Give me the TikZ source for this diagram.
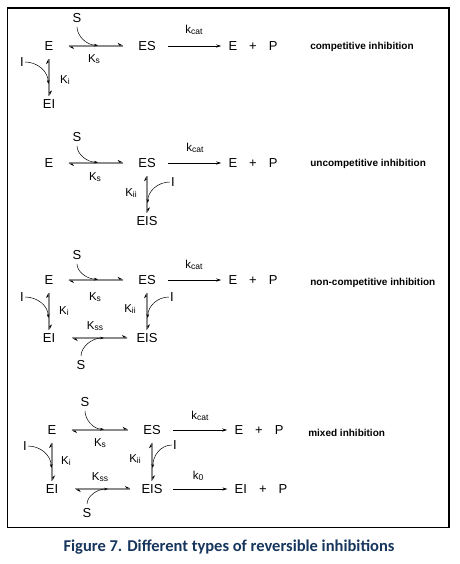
\documentclass[tikz,border=0pt]{standalone}
\usepackage{fontspec}
\setmainfont{Liberation Sans}
\newfontfamily\capfont{Carlito}
\usepackage{tikz}
\usetikzlibrary{arrows.meta}
\definecolor{capblue}{HTML}{17365D}
\newcommand{\klab}[2]{{\fontsize{11.5}{13}\selectfont #1}{\fontsize{8.5}{9}\selectfont\raisebox{-1pt}{#2}}}

\begin{document}
\begin{tikzpicture}[x=1pt, y=-1pt, line width=0.6pt,
  sp/.style={font=\fontsize{13}{15}\selectfont, inner sep=1pt},
  kl/.style={inner sep=0pt},
  typelab/.style={font=\fontsize{10}{12}\selectfont\bfseries, anchor=west, inner sep=0pt},
  fwd/.style={draw=black!45, line width=1.3pt, -{Stealth[harpoon, length=4.5pt, width=4.4pt, color=black]}},
  rxn/.style={line width=0.6pt, -{Stealth[length=5pt, width=3pt]}, shorten <=11pt, shorten >=6pt},
  bnd/.style={line width=0.5pt, -{Stealth[length=4pt, width=2.6pt]}}]

\useasboundingbox (0,0) rectangle (459,564);

% draw frame
\draw[line width=1.8pt] (7.5,8) rectangle (449,527.5);

% draw competitive inhibition
\node[sp] (S1) at (77,18) {S};
\node[sp] (E1) at (49,46) {E};
\node[sp] (ES1) at (147,46) {ES};
\node[sp] (P1) at (253,46) {E\hspace{12pt}+\hspace{12pt}P};
\node[sp] (EI1) at (49,104) {EI};
\node[sp] (I1) at (22,62) {I};
\node[kl] (Ks1) at (94,59) {\klab{K}{s}};
\node[kl] (kcat1) at (194,30) {\klab{k}{cat}};
\node[kl] (Ki1) at (65,80) {\klab{K}{i}};
\node[typelab] (type1) at (310,47) {competitive inhibition};
\coordinate (s1) at (98,45.2);
\coordinate (i1) at (48.2,84);

\draw[fwd, shorten <=14pt, shorten >=14pt] ([yshift=0.8pt]E1.east) -- ([yshift=0.8pt]ES1.west);
\draw[fwd, shorten <=14pt, shorten >=14pt] ([yshift=-0.8pt]ES1.west) -- ([yshift=-0.8pt]E1.east);
\draw[fwd, shorten <=7pt, shorten >=2.5pt] ([xshift=0.8pt]E1.south) -- ([xshift=0.8pt]EI1.north);
\draw[fwd, shorten <=2.5pt, shorten >=7pt] ([xshift=-0.8pt]EI1.north) -- ([xshift=-0.8pt]E1.south);
\draw[rxn] (ES1) -- (P1);
\draw[bnd, shorten <=3pt] (S1) to[out=-90, in=180] (s1);
\draw[bnd] (I1) to[out=0, in=90] (i1);

% draw uncompetitive inhibition
\node[sp] (S2) at (77,137) {S};
\node[sp] (E2) at (49,163) {E};
\node[sp] (ES2) at (147,163) {ES};
\node[sp] (P2) at (253,163) {E\hspace{12pt}+\hspace{12pt}P};
\node[sp] (EIS2) at (147,221) {EIS};
\node[sp] (I2) at (173,182) {I};
\node[kl] (Ks2) at (95,177) {\klab{K}{s}};
\node[kl] (kcat2) at (195,148) {\klab{k}{cat}};
\node[kl] (Kii2) at (131,193) {\klab{K}{ii}};
\node[typelab] (type2) at (310,164) {uncompetitive inhibition};
\coordinate (s2) at (98,162.2);
\coordinate (i2) at (147.8,203);

\draw[fwd, shorten <=14pt, shorten >=14pt] ([yshift=0.8pt]E2.east) -- ([yshift=0.8pt]ES2.west);
\draw[fwd, shorten <=14pt, shorten >=14pt] ([yshift=-0.8pt]ES2.west) -- ([yshift=-0.8pt]E2.east);
\draw[fwd, shorten <=7pt, shorten >=2.5pt] ([xshift=0.8pt]ES2.south) -- ([xshift=0.8pt]EIS2.north);
\draw[fwd, shorten <=2.5pt, shorten >=7pt] ([xshift=-0.8pt]EIS2.north) -- ([xshift=-0.8pt]ES2.south);
\draw[rxn] (ES2) -- (P2);
\draw[bnd, shorten <=3pt] (S2) to[out=-90, in=180] (s2);
\draw[bnd] (I2) to[out=180, in=90] (i2);

% draw non-competitive inhibition
\node[sp] (S3) at (77,255) {S};
\node[sp] (E3) at (49,280) {E};
\node[sp] (ES3) at (147,280) {ES};
\node[sp] (P3) at (253,280) {E\hspace{12pt}+\hspace{12pt}P};
\node[sp] (EI3) at (49,338) {EI};
\node[sp] (EIS3) at (147,338) {EIS};
\node[sp] (I3) at (22,297) {I};
\node[sp] (I3r) at (172,297) {I};
\node[sp] (S3b) at (81,365) {S};
\node[kl] (Ks3) at (95,297) {\klab{K}{s}};
\node[kl] (kcat3) at (194,265) {\klab{k}{cat}};
\node[kl] (Ki3) at (64,311) {\klab{K}{i}};
\node[kl] (Kii3) at (130,309) {\klab{K}{ii}};
\node[kl] (Kss3) at (95,326) {\klab{K}{ss}};
\node[typelab] (type3) at (310,283) {non-competitive inhibition};
\coordinate (s3) at (98,279.2);
\coordinate (i3) at (48.2,318);
\coordinate (i3r) at (147.8,318);
\coordinate (s3b) at (104,338);

\draw[fwd, shorten <=14pt, shorten >=14pt] ([yshift=0.8pt]E3.east) -- ([yshift=0.8pt]ES3.west);
\draw[fwd, shorten <=14pt, shorten >=14pt] ([yshift=-0.8pt]ES3.west) -- ([yshift=-0.8pt]E3.east);
\draw[fwd, shorten <=7pt, shorten >=2.5pt] ([xshift=0.8pt]E3.south) -- ([xshift=0.8pt]EI3.north);
\draw[fwd, shorten <=2.5pt, shorten >=7pt] ([xshift=-0.8pt]EI3.north) -- ([xshift=-0.8pt]E3.south);
\draw[fwd, shorten <=7pt, shorten >=2.5pt] ([xshift=0.8pt]ES3.south) -- ([xshift=0.8pt]EIS3.north);
\draw[fwd, shorten <=2.5pt, shorten >=7pt] ([xshift=-0.8pt]EIS3.north) -- ([xshift=-0.8pt]ES3.south);
\draw[fwd, shorten <=16pt, shorten >=8pt] ([yshift=0.8pt]EI3.east) -- ([yshift=0.8pt]EIS3.west);
\draw[fwd, shorten <=8pt, shorten >=16pt] ([yshift=-0.8pt]EIS3.west) -- ([yshift=-0.8pt]EI3.east);
\draw[rxn] (ES3) -- (P3);
\draw[bnd, shorten <=3pt] (S3) to[out=-90, in=180] (s3);
\draw[bnd] (I3) to[out=0, in=90] (i3);
\draw[bnd] (I3r) to[out=180, in=90] (i3r);
\draw[bnd, shorten <=3pt] (S3b) to[out=90, in=180] (s3b);

% draw mixed inhibition
\node[sp] (S4) at (85,402) {S};
\node[sp] (E4) at (52,430) {E};
\node[sp] (ES4) at (152,430) {ES};
\node[sp] (P4) at (259,430) {E\hspace{12pt}+\hspace{12pt}P};
\node[sp] (EI4) at (52,489) {EI};
\node[sp] (EIS4) at (152,489) {EIS};
\node[sp] (P4b) at (261,489) {EI\hspace{12pt}+\hspace{12pt}P};
\node[sp] (I4) at (25,446) {I};
\node[sp] (I4r) at (175,445) {I};
\node[sp] (S4b) at (87,513) {S};
\node[kl] (Ks4) at (100,443) {\klab{K}{s}};
\node[kl] (kcat4) at (200,416) {\klab{k}{cat}};
\node[kl] (Ki4) at (66,461) {\klab{K}{i}};
\node[kl] (Kii4) at (135,459) {\klab{K}{ii}};
\node[kl] (Kss4) at (100,477) {\klab{K}{ss}};
\node[kl] (k04) at (198,476) {\klab{k}{0}};
\node[typelab] (type4) at (308,433) {mixed inhibition};
\coordinate (s4) at (104,429.2);
\coordinate (i4) at (51.2,468);
\coordinate (i4r) at (152.8,468);
\coordinate (s4b) at (108,489);

\draw[fwd, shorten <=14pt, shorten >=14pt] ([yshift=0.8pt]E4.east) -- ([yshift=0.8pt]ES4.west);
\draw[fwd, shorten <=14pt, shorten >=14pt] ([yshift=-0.8pt]ES4.west) -- ([yshift=-0.8pt]E4.east);
\draw[fwd, shorten <=7pt, shorten >=2.5pt] ([xshift=0.8pt]E4.south) -- ([xshift=0.8pt]EI4.north);
\draw[fwd, shorten <=2.5pt, shorten >=7pt] ([xshift=-0.8pt]EI4.north) -- ([xshift=-0.8pt]E4.south);
\draw[fwd, shorten <=7pt, shorten >=2.5pt] ([xshift=0.8pt]ES4.south) -- ([xshift=0.8pt]EIS4.north);
\draw[fwd, shorten <=2.5pt, shorten >=7pt] ([xshift=-0.8pt]EIS4.north) -- ([xshift=-0.8pt]ES4.south);
\draw[fwd, shorten <=16pt, shorten >=10pt] ([yshift=0.8pt]EI4.east) -- ([yshift=0.8pt]EIS4.west);
\draw[fwd, shorten <=10pt, shorten >=16pt] ([yshift=-0.8pt]EIS4.west) -- ([yshift=-0.8pt]EI4.east);
\draw[rxn] (ES4) -- (P4);
\draw[rxn, shorten <=9pt] (EIS4) -- (P4b);
\draw[bnd, shorten <=3pt] (S4) to[out=-90, in=180] (s4);
\draw[bnd] (I4) to[out=0, in=90] (i4);
\draw[bnd] (I4r) to[out=180, in=90] (i4r);
\draw[bnd, shorten <=3pt] (S4b) to[out=90, in=180] (s4b);

% draw caption
\node[font=\capfont\bfseries\fontsize{16.5}{19}\selectfont, text=capblue, inner sep=0pt] (cap) at (229,547) {Figure 7. Different types of reversible inhibitions};

\end{tikzpicture}
\end{document}
